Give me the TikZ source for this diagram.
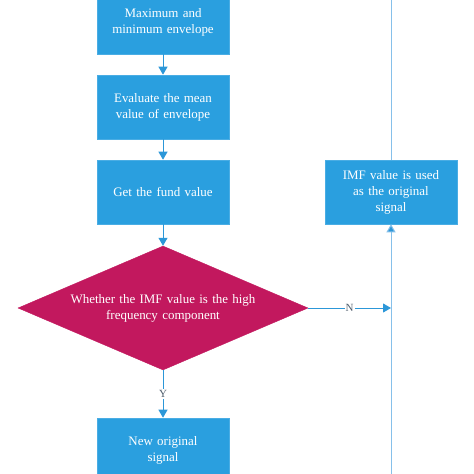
\documentclass[tikz,border=0pt]{standalone}
\usepackage{fontspec}
\setmainfont{Liberation Serif}
\usetikzlibrary{shapes.geometric,arrows.meta}
\definecolor{boxblue}{HTML}{2A9FDF}
\definecolor{linkblue}{HTML}{2C97D8}
\definecolor{railblue}{HTML}{86C0EA}
\definecolor{decpink}{HTML}{C2185E}
\definecolor{tagtext}{HTML}{4E5D6C}
\tikzset{
  stepbox/.style={shape=rectangle, fill=boxblue, draw=boxblue!85!white, line width=0.6pt,
    minimum width=132bp, minimum height=64bp, text width=126bp, align=center,
    text=white, font=\fontsize{13}{16}\selectfont, inner sep=0pt},
  decision/.style={shape=diamond, aspect=2.34, fill=decpink, draw=decpink, minimum width=290bp,
    minimum height=124bp, text width=190bp, align=center, inner sep=0pt,
    text=white, font=\fontsize{13}{16}\selectfont},
  link/.style={draw=linkblue, line width=1bp, -{Triangle[length=8bp,width=9bp]}},
  tag/.style={fill=white, text=tagtext, inner sep=1pt, font=\fontsize{11}{12}\selectfont}
}
\begin{document}
\begin{tikzpicture}[x=1bp, y=-1bp]

     \useasboundingbox (0,0) rectangle (474,474);

     \node[stepbox] (env)  at (163,22){Maximum and\\minimum envelope};
     \node[stepbox] (mean) at (163,107){Evaluate the mean\\value of envelope};
     \node[stepbox] (fund) at (163,192){Get the fund value};
     \node[decision] (high) at (163,308){Whether the IMF value is the high\\frequency component};
     \node[stepbox] (new)  at (163,450){New original\\signal};
     \node[stepbox] (imf)  at (391,192){IMF value is used\\as the original\\signal};

     \coordinate (railtop) at (391,0);
     \coordinate (railjoin) at (391,308);
     \coordinate (railbot) at (391,474);

     \draw [link] (env) to (mean);
     \draw [link] (mean) to (fund);
     \draw [link] (fund) to (high);
     \draw [link] (high) to node[tag]{Y} (new);
     \draw [link] (high.east) to node[tag]{N} (railjoin);

     \draw [draw=railblue, line width=1bp] (railtop) to (imf.north);
     \draw [draw=railblue, line width=1bp] (railbot) to (railjoin);
     \draw [link, draw=railblue, -{Triangle[length=8bp,width=9bp,fill=linkblue]}] (railjoin) to (imf.south);

\end{tikzpicture}
\end{document}
